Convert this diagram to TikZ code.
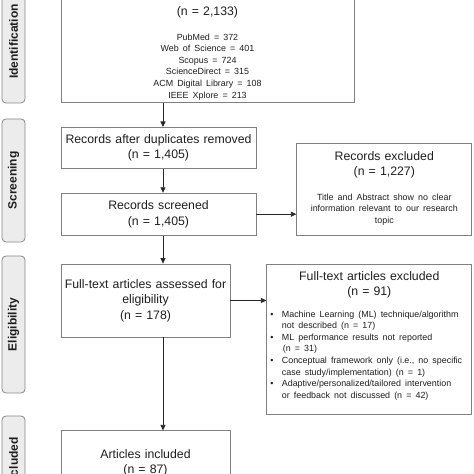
\documentclass[tikz,border=0pt]{standalone}
\usepackage{fontspec}
\setmainfont{Liberation Sans}
\usetikzlibrary{arrows.meta,positioning}
\definecolor{boxgray}{RGB}{128,128,128}
\definecolor{linegray}{RGB}{40,40,40}
\definecolor{phasefill}{RGB}{236,236,236}
\definecolor{phasedraw}{RGB}{135,135,135}
\definecolor{inkgray}{RGB}{30,30,30}
\newcommand{\bigfnt}{\fontsize{12.3}{15.5}\selectfont}
\newcommand{\smallfnt}{\fontsize{8.9}{11.6}\selectfont}

\begin{document}
\begin{tikzpicture}[
    x=1pt, y=1pt,
    box/.style={rectangle,draw=boxgray,line width=0.8pt,align=center,
      inner sep=3pt,text=inkgray,font=\bigfnt},
    phase/.style={rectangle,rounded corners=4pt,draw=phasedraw,fill=phasefill,
      line width=0.8pt,rotate=90,minimum height=23pt,inner sep=0pt,
      text=inkgray,font=\bfseries\fontsize{12}{14}\selectfont},
    arrow/.style={-{Triangle[length=5.5pt,width=5pt]},line width=0.8pt,draw=linegray}
  ]
  \useasboundingbox (0,0) rectangle (474,474);
  \clip (0,0) rectangle (474,474);

  % phase labels on the left
  \node[phase,minimum width=123pt] (lident) at (13.5,432.5) {Identification};
  \node[phase,minimum width=123pt] (lscreen) at (13.5,293.5) {Screening};
  \node[phase,minimum width=137pt] (lelig) at (13.5,149.5) {Eligibility};
  \node[phase,minimum width=92pt] (lincl) at (13.5,12) {Included};

  % main column
  \node[box,text width=287pt,inner ysep=0pt,minimum height=108pt,anchor=south] (ident) at (207.5,371)
    {\rule{0pt}{20pt}(n = 2,133)\\[9pt]{\smallfnt\begin{tabular}[t]{@{}c@{}}PubMed = 372\\Web of Science = 401\\Scopus = 724\\ScienceDirect = 315\\ACM Digital Library = 108\\IEEE Xplore = 213\end{tabular}}};
  \node[box,text width=189pt,minimum height=41pt,below=24pt of ident.south west,anchor=north west] (dup)
    {Records after duplicates removed\\(n = 1,405)};
  \node[box,text width=189pt,minimum height=42pt,below=24pt of dup] (screened)
    {Records screened\\(n = 1,405)};
  \node[box,text width=163pt,minimum height=73pt,below=28pt of screened.south west,anchor=north west] (full)
    {Full-text articles assessed for\\eligibility\\(n = 178)};
  \node[box,text width=163pt,minimum height=64pt,below=93pt of full] (incl)
    {Articles included\\(n = 87)};

  % exclusions
  \node[box,text width=169pt,minimum height=92pt,right=40pt of screened.south east,anchor=south west] (excl1)
    {Records excluded\\(n = 1,227)\\[9pt]{\smallfnt\begin{tabular}[t]{@{}c@{}}Title and Abstract show no clear\\information relevant to our research\\topic\end{tabular}}};
  \node[box,text width=199pt,minimum height=150pt,right=36pt of full.north east,anchor=north west] (excl2)
    {Full-text articles excluded\\(n = 91)\\[6pt]\makebox[199pt][l]{\smallfnt\begin{tabular}[t]{@{\hspace{0.5pt}}l@{\hspace{8.5pt}}l@{}}
      \textbullet & Machine Learning (ML) technique/algorithm\\
                  & not described (n = 17)\\
      \textbullet & ML performance results not reported\\
                  & \hspace{1pt}(n = 31)\\
      \textbullet & Conceptual framework only (i.e., no specific\\
                  & case study/implementation) (n = 1)\\
      \textbullet & Adaptive/personalized/tailored intervention\\
                  & or feedback not discussed (n = 42)\rule[-8.5pt]{0pt}{1pt}
     \end{tabular}}};

  % connectors
  \coordinate (spine) at (163,0);
  \draw[arrow] (ident.south -| spine) -- (dup.north -| spine);
  \draw[arrow] (dup.south -| spine) -- (screened.north -| spine);
  \draw[arrow] (screened.south -| spine) -- (full.north -| spine);
  \draw[arrow] (full.south -| spine) -- (incl.north -| spine);
  \draw[arrow] (screened.east) -- (excl1.west |- screened.east);
  \draw[arrow] (full.east) -- (excl2.west |- full.east);
\end{tikzpicture}
\end{document}
